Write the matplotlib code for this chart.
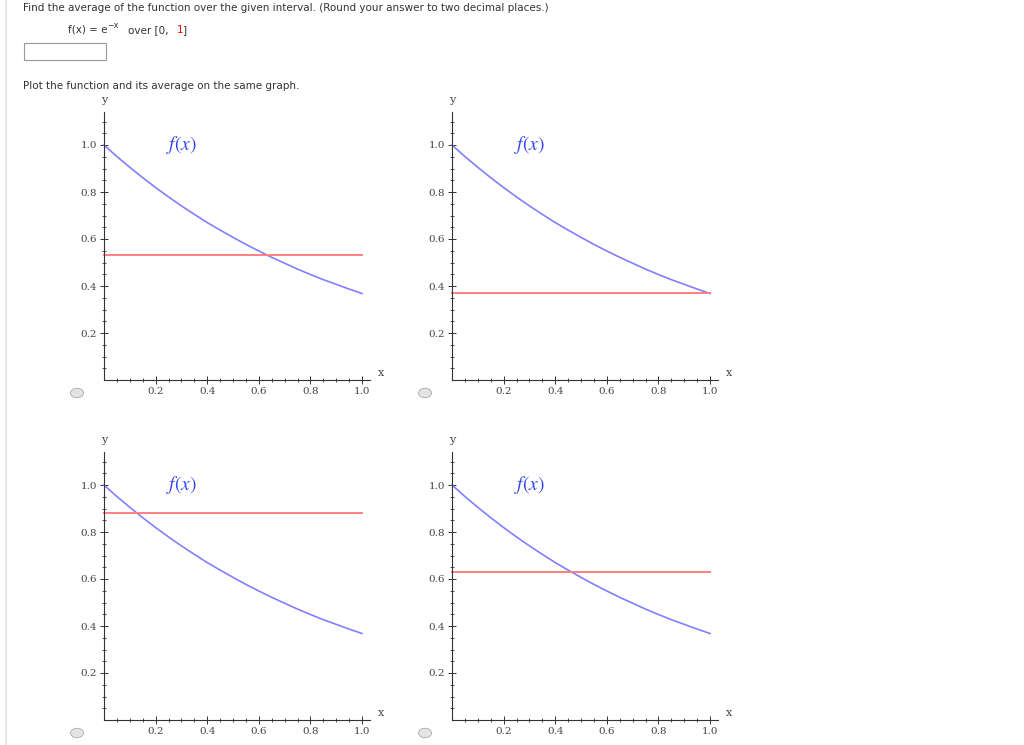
import matplotlib
matplotlib.use("Agg")
import matplotlib.pyplot as plt
from matplotlib.patches import Rectangle, Circle

plt.rcParams["mathtext.fontset"] = "stix"

W, H = 1024, 745
x_vals = [0.0, 0.05, 0.1, 0.15, 0.2, 0.25, 0.3, 0.35, 0.4, 0.45, 0.5,
          0.55, 0.6, 0.65, 0.7, 0.75, 0.8, 0.85, 0.9, 0.95, 1.0]
f_vals = [1.0, 0.951, 0.905, 0.861, 0.819, 0.779, 0.741, 0.705, 0.670, 0.638, 0.607,
          0.577, 0.549, 0.522, 0.497, 0.472, 0.449, 0.427, 0.407, 0.387, 0.368]
averages = [0.53, 0.37, 0.88, 0.63]
x_ticks = [0.2, 0.4, 0.6, 0.8, 1.0]
y_ticks = [0.2, 0.4, 0.6, 0.8, 1.0]
origins = [(104, 380), (452, 380), (104, 720), (452, 720)]  # pixel positions of (0,0)

fig = plt.figure(figsize=(W/100, H/100), dpi=100)
fig.patch.set_facecolor("white")

def px(x, y):
    return x / W, 1 - y / H

sans = "DejaVu Sans"
fs = 7.5
col = "#333333"
fig.text(*px(23, 8), "Find the average of the function over the given interval. (Round your answer to two decimal places.)",
         fontsize=fs, family=sans, va="center", color=col)
fig.text(*px(68, 30), "f(x) = e", fontsize=fs, family=sans, va="center", color=col)
fig.text(*px(107, 26), "−x", fontsize=5.8, family=sans, va="center", color=col)
fig.text(*px(128, 30), "over [0,", fontsize=fs, family=sans, va="center", color=col)
fig.text(*px(177, 30), "1", fontsize=fs, family=sans, va="center", color="red")
fig.text(*px(183, 30), "]", fontsize=fs, family=sans, va="center", color=col)
fig.patches.append(Rectangle(px(24, 60), 82/W, 17/H, transform=fig.transFigure,
                             fill=False, edgecolor="#999999", lw=0.8))
fig.text(*px(23, 86), "Plot the function and its average on the same graph.",
         fontsize=fs, family=sans, va="center", color=col)
fig.lines.append(plt.Line2D([6/W, 6/W], [0, 1], transform=fig.transFigure, color="#e6e6e6", lw=1.5))

xw, yh = 258, 235  # px per unit
for (ox, oy), avg in zip(origins, averages):
    left, bottom = px(ox, oy)
    ax = fig.add_axes([left, bottom, 1.03 * xw / W, 1.14 * yh / H])
    ax.set_xlim(0, 1.03)
    ax.set_ylim(0, 1.14)
    ax.patch.set_alpha(0)
    for s in ["top", "right"]:
        ax.spines[s].set_visible(False)
    for s in ["left", "bottom"]:
        ax.spines[s].set_linewidth(0.8)
        ax.spines[s].set_color("#333333")
    ax.plot(x_vals, f_vals, color="#8080ff", lw=1.2, clip_on=False)
    ax.plot([0, 1], [avg, avg], color="#ff8080", lw=1.4, clip_on=False)
    ax.set_xticks(x_ticks)
    ax.set_yticks(y_ticks)
    ax.set_xticks([i * 0.05 for i in range(1, 21)], minor=True)
    ax.set_yticks([i * 0.05 for i in range(1, 23)], minor=True)
    ax.set_xticklabels([f"{t:.1f}" for t in x_ticks], family="DejaVu Serif", fontsize=7.5, color="#444444")
    ax.set_yticklabels([f"{t:.1f}" for t in y_ticks], family="DejaVu Serif", fontsize=7.5, color="#444444")
    ax.tick_params(which="major", direction="inout", length=6, width=0.7, color="#333333", pad=2)
    ax.tick_params(which="minor", direction="inout", length=3, width=0.6, color="#333333")
    ax.text(1.06, 0.01, "x", family="DejaVu Serif", fontsize=8, color="#444444", va="bottom")
    ax.text(0, 1.17, "y", family="DejaVu Serif", fontsize=8, color="#444444", ha="center", va="bottom")
    ax.text(0.24, 1.0, "$f(x)$", fontsize=14, color="#3344ee", va="center")
    cx, cy = ox - 27, oy + 13
    fig.patches.append(Circle(px(cx, cy), 6.5 / W, transform=fig.transFigure,
                              facecolor="#e4e4e4", edgecolor="#aaaaaa", lw=0.6))

fig.savefig("out.png", dpi=100)
